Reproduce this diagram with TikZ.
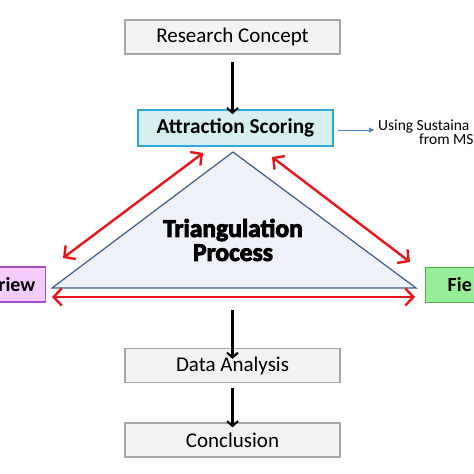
\documentclass[tikz,border=0pt]{standalone}
\usepackage{fontspec}
\setmainfont{Carlito}
\newfontfamily\heavyfont[BoldFeatures={FakeBold=3.5}]{Carlito}
\usetikzlibrary{arrows.meta,positioning}
\definecolor{boxgray}{HTML}{F2F2F2}
\definecolor{boxline}{HTML}{A6A6A6}
\definecolor{cyanfill}{HTML}{D5F0EE}
\definecolor{cyanline}{HTML}{2FA8DC}
\definecolor{trifill}{HTML}{EEF2F8}
\definecolor{triline}{HTML}{3F5B8C}
\definecolor{arrred}{HTML}{E8141C}
\definecolor{purpfill}{HTML}{F3CCFB}
\definecolor{purpline}{HTML}{A84BC8}
\definecolor{grnfill}{HTML}{98EE98}
\definecolor{grnline}{HTML}{4CB04C}
\definecolor{smallblue}{HTML}{4A7EC8}
\tikzset{
  x=1pt, y=-1pt,
  graybox/.style={draw=boxline, fill=boxgray, line width=1.2pt, minimum width=215pt, minimum height=34pt, inner sep=0pt, font=\fontsize{21}{23}\selectfont},
  cyanbox/.style={draw=cyanline, fill=cyanfill, line width=1.6pt, minimum width=195pt, minimum height=36pt, inner sep=0pt, font=\bfseries\fontsize{21.3}{23}\selectfont},
  blackarrow/.style={line width=3.2pt, -{Straight Barb[length=5pt,width=11pt,line width=2pt]}},
  redarrow/.style={draw=arrred, line width=2.4pt, {Straight Barb[length=8pt,width=17pt,line width=2.4pt]}-{Straight Barb[length=8pt,width=17pt,line width=2.4pt]}},
  sidebox/.style={line width=1.3pt, minimum height=35pt, inner ysep=0pt, font=\bfseries\fontsize{20}{22}\selectfont},
}
\begin{document}
\begin{tikzpicture}
\useasboundingbox (0,0) rectangle (474,474);
\clip (0,0) rectangle (474,474);
\fill[white] (0,0) rectangle (474,474);

% main boxes
\node[graybox] (rc) at (232.5,37) {Research Concept};
\node[cyanbox] (as) at (235.5,128) {Attraction Scoring};
\node[graybox] (da) at (232.5,365.5) {Data Analysis};
\node[graybox] (cc) at (232.5,440) {Conclusion};

% triangle
\coordinate (ta) at (233,152);
\coordinate (tl) at (52,288);
\coordinate (tr) at (416,288);
\draw[triline, fill=trifill, line width=1.2pt, line join=miter] (ta) -- (tl) -- (tr) -- cycle;
\node[font=\heavyfont\bfseries\fontsize{25.5}{24}\selectfont, align=center] (tp) at (233,240) {Triangulation\\Process};

% side boxes (cut by the picture edge)
\node[sidebox, draw=purpline, fill=purpfill, anchor=east, minimum width=110pt, text width=93pt, align=right, inner xsep=10pt] (iv) at (46,284.5) {riew};
\node[sidebox, draw=grnline, fill=grnfill, anchor=west, minimum width=110pt, text width=66pt, align=left, inner xsep=22pt] (fs) at (425,285) {Fie};

% note
\node[anchor=north west, font=\fontsize{15.5}{14}\selectfont, inner sep=0pt, align=left] (note) at (378,120) {Using Sustaina\\\hspace*{41pt}from MS};
\coordinate (ns) at (338,130);
\coordinate (ne) at (374,130);
\draw[smallblue, line width=0.6pt, -{Triangle[length=5pt,width=5pt]}] (ns) -- (ne);

% black arrows
\draw[blackarrow] (rc.south) ++(0,7) coordinate (a1) -- ([yshift=-5pt]as.north -| a1);
\draw[blackarrow] (232.5,310) coordinate (a2) -- ([yshift=-11pt]da.north -| a2);
\draw[blackarrow] (da.south) ++(0,5) coordinate (a3) -- ([yshift=-5pt]cc.north -| a3);

% red double arrows
\coordinate (l1) at (63,258); \coordinate (l2) at (203,153);
\coordinate (r1) at (272,157); \coordinate (r2) at (410,262);
\coordinate (b1) at (52,297); \coordinate (b2) at (415,297);
\draw[redarrow] (l1) -- (l2);
\draw[redarrow] (r1) -- (r2);
\draw[redarrow] (b1) -- (b2);
\end{tikzpicture}
\end{document}
